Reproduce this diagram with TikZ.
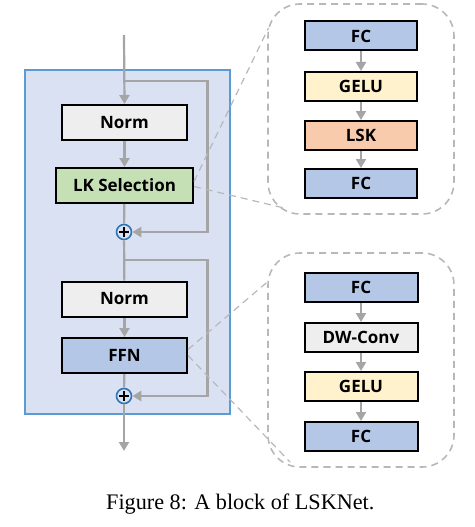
\documentclass[tikz,border=0pt]{standalone}
\usepackage{fontspec}
\setmainfont{Liberation Serif}
\newfontfamily\boxfont{Open Sans}
\usetikzlibrary{arrows.meta}
\definecolor{bgblue}{HTML}{DAE1F3}
\definecolor{bordblue}{HTML}{5B9BD5}
\definecolor{normgray}{HTML}{EEEEEE}
\definecolor{lkgreen}{HTML}{C5E0B4}
\definecolor{fcblue}{HTML}{B4C7E7}
\definecolor{gelu}{HTML}{FFF2CC}
\definecolor{lsk}{HTML}{F8CBAD}
\definecolor{flow}{HTML}{A5A5A5}
\definecolor{dash}{HTML}{B8B8B8}
\definecolor{plusblue}{HTML}{2E75B6}
\tikzset{
  blk/.style={draw=black, line width=2pt, minimum height=#1, inner sep=0pt,
    font=\boxfont\bfseries\fontsize{17}{19}\selectfont, text=black},
  blk/.default=35pt,
  flowline/.style={draw=flow, line width=2.2pt},
  flowarrow/.style={flowline, -{Triangle[length=9pt,width=10pt]}},
  zoomframe/.style={draw=dash, line width=1.6pt, dash pattern=on 7pt off 5pt, rounded corners=32pt},
  zoomline/.style={draw=dash, line width=1.2pt, dash pattern=on 7pt off 5pt},
  addop/.style={circle, draw=plusblue, line width=1.6pt, fill=bgblue, minimum size=15pt, inner sep=0pt,
    path picture={\draw[black, line width=1.4pt] ([xshift=-5pt]path picture bounding box.center) -- ([xshift=5pt]path picture bounding box.center);
    \draw[black, line width=1.4pt] ([yshift=-5pt]path picture bounding box.center) -- ([yshift=5pt]path picture bounding box.center);}},
}
\begin{document}
\begin{tikzpicture}[x=1pt, y=-1pt]
\useasboundingbox (0,0) rectangle (474,527);
% main block
\node[draw=bordblue, fill=bgblue, line width=1.5pt, minimum width=205pt, minimum height=344pt, inner sep=0pt] (block) at (127.5,242) {};
% nodes
\coordinate (in) at (124,35);
\coordinate (out) at (124,451);
\coordinate (s1) at (124,81);
\coordinate (s1r) at (207.5,81);
\coordinate (s1b) at (207.5,232);
\coordinate (s2) at (124,260);
\coordinate (s2r) at (207.5,260);
\coordinate (s2b) at (207.5,396);
\node[blk, fill=normgray, minimum width=125pt] (norm1) at (124.5,122.5) {Norm};
\node[blk, fill=lkgreen, minimum width=137pt] (lks) at (124.5,185.5) {LK Selection};
\node[addop] (add1) at (124,232) {};
\node[blk, fill=normgray, minimum width=125pt] (norm2) at (124.5,299) {Norm};
\node[blk, fill=fcblue, minimum width=125pt] (ffn) at (124.5,355.5) {FFN};
\node[addop] (add2) at (124,396) {};
% main flow
\draw[flowarrow] (in) -- (norm1.north);
\draw[flowarrow] (norm1) -- (lks);
\draw[flowline] (lks) -- (add1);
\draw[flowarrow] (s1) -- (s1r) -- (s1b) -- (add1);
\draw[flowline] (add1) -- (norm2);
\draw[flowarrow] (norm2) -- (ffn);
\draw[flowline] (ffn) -- (add2);
\draw[flowarrow] (s2) -- (s2r) -- (s2b) -- (add2);
\draw[flowarrow] (add2) -- (out);
% zoom frame 1
\node[zoomframe, minimum width=186pt, minimum height=210pt, inner sep=0pt] (z1) at (361,109) {};
\node[blk, fill=fcblue, minimum width=112pt, minimum height=29pt] (a1) at (361,36) {FC};
\node[blk, fill=gelu, minimum width=112pt, minimum height=29pt] (a2) at (361,86.5) {GELU};
\node[blk, fill=lsk, minimum width=112pt, minimum height=29pt] (a3) at (361,135.5) {LSK};
\node[blk, fill=fcblue, minimum width=112pt, minimum height=29pt] (a4) at (361,183.5) {FC};
\draw[flowarrow] (a1) -- (a2);
\draw[flowarrow] (a2) -- (a3);
\draw[flowarrow] (a3) -- (a4);
\coordinate (z1a) at (268.5,28);
\coordinate (z1b) at (284,208);
\draw[zoomline] (lks.east) ++(0,-4) -- (z1a);
\draw[zoomline] (lks.east) ++(0,1) -- (z1b);
% zoom frame 2
\node[zoomframe, minimum width=186pt, minimum height=214pt, inner sep=0pt] (z2) at (361,360) {};
\node[blk, fill=fcblue, minimum width=113pt, minimum height=29pt] (b1) at (361,287.5) {FC};
\node[blk, fill=normgray, minimum width=113pt, minimum height=29pt] (b2) at (361,337.5) {DW-Conv};
\node[blk, fill=gelu, minimum width=113pt, minimum height=29pt] (b3) at (361,386.5) {GELU};
\node[blk, fill=fcblue, minimum width=113pt, minimum height=29pt] (b4) at (361,436.5) {FC};
\draw[flowarrow] (b1) -- (b2);
\draw[flowarrow] (b2) -- (b3);
\draw[flowarrow] (b3) -- (b4);
\coordinate (z2a) at (268.5,281);
\coordinate (z2b) at (290,462);
\draw[zoomline] (ffn.east) ++(0,-6) -- (z2a);
\draw[zoomline] (ffn.east) ++(0,0) -- (z2b);
% caption
\node[anchor=base west, inner sep=0pt, font=\fontsize{22.2}{25}\selectfont] (cap) at (106,509) {Figure 8: A block of LSKNet.};
\end{tikzpicture}
\end{document}
